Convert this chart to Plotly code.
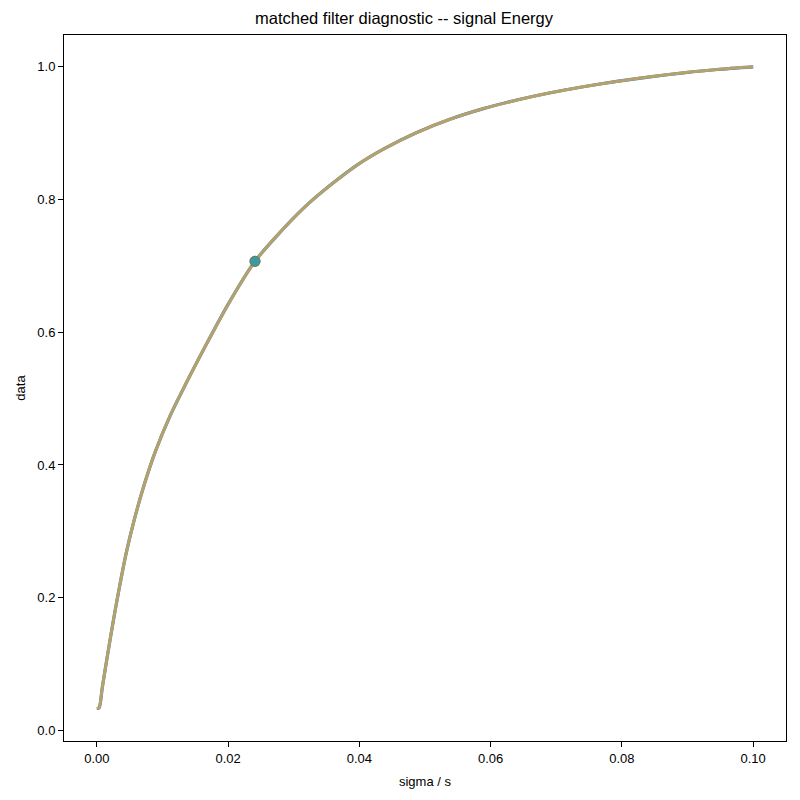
import plotly.graph_objects as go

# curve (sigma in s, normalised energy)
sigma = [0.0, 0.00034, 0.00084, 0.00166, 0.00251, 0.00343, 0.00445, 0.00567,
         0.00709, 0.00887, 0.01116, 0.0137, 0.01675, 0.0200, 0.0241, 0.0274,
         0.0315, 0.0355, 0.0398, 0.04366, 0.04875, 0.0538, 0.0589, 0.0640,
         0.0691, 0.0741, 0.0792, 0.0843, 0.0894, 0.0945, 0.1]
energy = [0.033, 0.034, 0.065, 0.115, 0.165, 0.215, 0.266, 0.316,
          0.366, 0.419, 0.474, 0.525, 0.583, 0.642, 0.707, 0.745,
          0.787, 0.821, 0.853, 0.876, 0.901, 0.921, 0.937, 0.950,
          0.961, 0.970, 0.978, 0.985, 0.991, 0.996, 1.0]

# marker where the energy reaches 1/sqrt(2)
mark_sigma = [0.0241]
mark_energy = [0.707]

fig = go.Figure()

# under-lying series (only the edge shows through)
fig.add_trace(go.Scatter(x=sigma, y=energy, mode="lines",
                         line=dict(color="#3b86a6", width=3.2, shape="spline", smoothing=0.8),
                         showlegend=False, hoverinfo="skip"))
fig.add_trace(go.Scatter(x=sigma, y=energy, mode="lines",
                         line=dict(color="#b6a16c", width=3, shape="spline", smoothing=0.8),
                         showlegend=False))

fig.add_trace(go.Scatter(x=mark_sigma, y=mark_energy, mode="markers",
                         marker=dict(size=11, color="#e0622a", line=dict(width=0)),
                         showlegend=False))
fig.add_trace(go.Scatter(x=mark_sigma, y=mark_energy, mode="markers",
                         marker=dict(size=10, color="#3a9c9c", line=dict(width=1, color="#5a7f86")),
                         showlegend=False))

axis_common = dict(
    showline=True, linecolor="black", linewidth=1, mirror=True,
    ticks="outside", ticklen=5, tickcolor="black", showgrid=False, zeroline=False,
    tickfont=dict(size=13, color="black"), automargin=False,
)

fig.update_xaxes(range=[-0.005, 0.105], tickvals=[0, 0.02, 0.04, 0.06, 0.08, 0.1],
                 tickformat=".2f", title=dict(text="sigma / s", font=dict(size=13), standoff=12),
                 **axis_common)
fig.update_yaxes(range=[-0.016, 1.048], tickvals=[0, 0.2, 0.4, 0.6, 0.8, 1.0],
                 tickformat=".1f", title=dict(text="data", font=dict(size=13), standoff=8),
                 **axis_common)

# page body adds an 8px offset, so the figure is 792 wide and the margins are shifted
fig.update_layout(
    width=792, height=792,
    margin=dict(l=56, r=14, t=27, b=59),
    paper_bgcolor="white", plot_bgcolor="white",
    font=dict(family="Liberation Sans, Arial, sans-serif", color="black"),
    title=dict(text="matched filter diagnostic -- signal Energy", x=0.5, xanchor="center",
               y=0.987, yanchor="middle", font=dict(size=16.5)),
)

fig.write_html("out.html")
